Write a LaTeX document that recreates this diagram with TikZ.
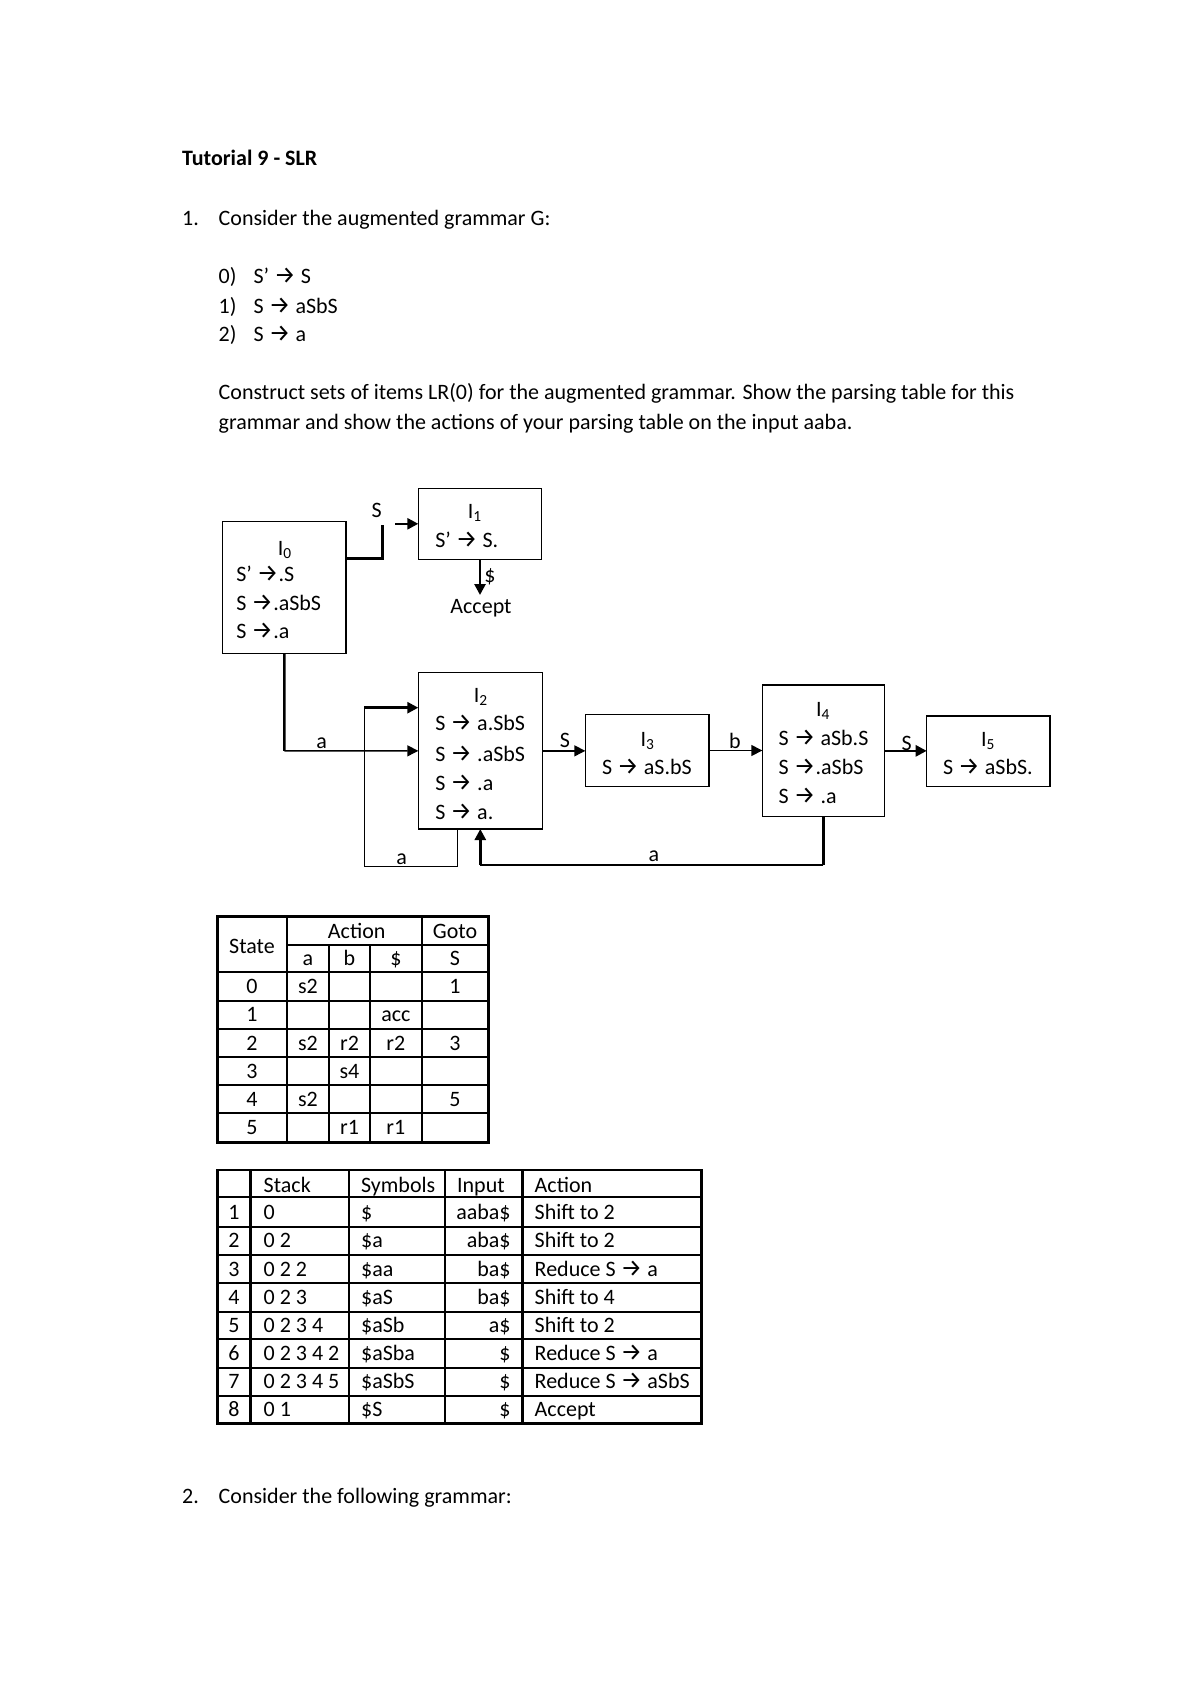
\documentclass[tikz,border=0pt]{standalone}
\usepackage{fontspec}
\setmainfont{Carlito}
\newfontfamily\arrowfont[Scale=1.1]{Fira Sans}
\usetikzlibrary{arrows.meta}
\newcommand\ra{{\arrowfont →}}
\newcommand\stbox[5]{\node[statebox,minimum width={(#4-#2)*0.5pt},minimum height={(#5-#3)*0.5pt}] (#1) at ({(#2+#4)/2},{(#3+#5)/2}) {};}
\tikzset{
  txt/.style={anchor=base west,inner sep=0pt},
  ctxt/.style={anchor=base,inner sep=0pt},
  rtxt/.style={anchor=base east,inner sep=0pt},
  statebox/.style={draw,line width=0.75pt,inner sep=0pt,outer sep=0pt},
  thinline/.style={line width=0.7pt},
  thickline/.style={line width=1.3pt},
  tip/.style={-{Triangle[length=5.5pt,width=5.5pt]}},
  tline/.style={line width=0.9pt},
  tthick/.style={line width=1.3pt},
}
\begin{document}
\begin{tikzpicture}[x=0.5pt,y=-0.5pt,font=\fontsize{11}{13}\selectfont]
\fill[white] (0,0) rectangle (1200,1696);
\useasboundingbox (0,0) rectangle (1200,1696);

% ---------- heading text ----------
\node[txt] (title) at (181.7,166) {\bfseries Tutorial 9 - SLR};
\node[txt] (n1) at (181.7,225.5) {1.};
\node[txt] (q1) at (218.3,225.5) {Consider the augmented grammar G:};
\node[txt] (g0n) at (218.3,284) {0)};
\node[txt] (g0) at (253.3,284) {S’ \ra{} S};
\node[txt] (g1n) at (218.3,313) {1)};
\node[txt] (g1) at (253.3,313) {S \ra{} aSbS};
\node[txt] (g2n) at (218.3,341.5) {2)};
\node[txt] (g2) at (253.3,341.5) {S \ra{} a};
\node[txt] (q1b) at (218.3,399) {Construct sets of items LR(0) for the augmented grammar. Show the parsing table for this};
\node[txt] (q1c) at (218.3,429) {grammar and show the actions of your parsing table on the input aaba.};
\node[txt] (n2) at (181.7,1503.5) {2.};
\node[txt] (q2) at (218.3,1503.5) {Consider the following grammar:};

% ---------- state boxes ----------
\stbox{I0}{222.7}{521.7}{346}{653.3}
\stbox{I1}{418.3}{488.3}{541.7}{559.3}
\stbox{I2}{418.3}{672.7}{542.3}{829}
\stbox{I3}{585.3}{714.3}{709}{786.7}
\stbox{I4}{762.3}{685}{884.3}{816.7}
\stbox{I5}{926.7}{716}{1050}{786.7}

% box contents
\node[ctxt] (l0) at (285,555) {I\textsubscript{0}};
\node[txt] (i0a) at (236,581) {S’ \ra.S};
\node[txt] (i0b) at (236,610) {S \ra.aSbS};
\node[txt] (i0c) at (236,638.7) {S \ra.a};
\node[ctxt] (l1) at (475,518) {I\textsubscript{1}};
\node[txt] (i1a) at (435,547) {S’ \ra{} S.};
\node[ctxt] (acc) at (481,613) {Accept};
\node[ctxt] (l2) at (481,702) {I\textsubscript{2}};
\node[txt] (i2a) at (435,730.3) {S \ra{} a.SbS};
\node[txt] (i2b) at (435,761.3) {S \ra{} .aSbS};
\node[txt] (i2c) at (435,790.3) {S \ra{} .a};
\node[txt] (i2d) at (435,819.7) {S \ra{} a.};
\node[ctxt] (l3) at (647.7,746) {I\textsubscript{3}};
\node[txt] (i3a) at (601.7,774.3) {S \ra{} aS.bS};
\node[ctxt] (l4) at (823.3,716) {I\textsubscript{4}};
\node[txt] (i4a) at (778.3,745.3) {S \ra{} aSb.S};
\node[txt] (i4b) at (778.3,774.3) {S \ra.aSbS};
\node[txt] (i4c) at (778.3,803) {S \ra{} .a};
\node[ctxt] (l5) at (988.3,746) {I\textsubscript{5}};
\node[txt] (i5a) at (942.7,774.3) {S \ra{} aSbS.};

% edge labels
\node[ctxt] (eS01) at (376.7,517) {S};
\node[ctxt] (eD1) at (490,582) {\$};
\node[ctxt] (ea02) at (321.7,748) {a};
\node[ctxt] (ea22) at (401.7,864.5) {a};
\node[ctxt] (ea42) at (654,861) {a};
\node[ctxt] (eS23) at (565,747) {S};
\node[ctxt] (eb34) at (735,748) {b};
\node[ctxt] (eS45) at (906.7,750) {S};

% ---------- connectors ----------
\coordinate (k1) at (382.7,558.3);
\coordinate (k2) at (382.7,525);
\coordinate (k3) at (395,523.8);
\draw[thickline] (k1 -| I0.east) -- (k1) -- (k2);
\draw[thickline,tip] (k3) -- (I1.west);
\draw[thickline,tip] (I1.south) -- (I1.south |- 0,595);

\coordinate (k4) at (284.35,750.85);
\draw[thickline] (I0.south) -- (k4);
\draw[thinline,tip] (k4) -- (I2.west);

\coordinate (k5) at (457.7,829);
\coordinate (k6) at (457.7,866.7);
\coordinate (k7) at (364.3,866.7);
\coordinate (k8) at (364.3,707.7);
\draw[thinline] (k5) -- (k6) -- (k7) -- (k8);
\draw[thickline,tip] (k8) -- (I2.west |- k8);

\coordinate (k9) at (823.3,865);
\draw[thickline] (I4.south) -- (k9);
\draw[thinline] (k9) -- (I2.south |- k9);
\draw[thickline,tip] (I2.south |- k9) -- (I2.south);

\draw[thinline,tip] (I2.east) -- (I2.east -| I3.west);
\draw[thinline,tip] (I3.east) -- (I3.east -| I4.west);
\draw[thickline,tip] (I4.east) -- (I4.east -| I5.west);

% ---------- parsing table ----------
\draw[tthick] (217.3,916.7) rectangle (488.3,1142.3);
\draw[tline] (286.7,945) -- (488.3,945);
\foreach \yy in {971.7,1000.7,1029,1057,1085,1113.3}
  \draw[tline] (217.3,\yy) -- (488.3,\yy);
\draw[tline] (286.7,916.7) -- (286.7,1142.3);
\draw[tline] (421.7,916.7) -- (421.7,1142.3);
\draw[thinline] (329,945) -- (329,1142.3);
\draw[tthick] (370,945) -- (370,1142.3);

\node[ctxt] (hState) at (252,953.7) {State};
\node[ctxt] (hAction) at (356.7,938) {Action};
\node[ctxt] (hGoto) at (455,938) {Goto};
\node[ctxt] (ha) at (307.9,965) {a};
\node[ctxt] (hb) at (349.5,965) {b};
\node[ctxt] (hd) at (395.85,965) {\$};
\node[ctxt] (hS) at (455,965) {S};
\foreach \st/\ca/\cb/\cd/\cg/\yy in {0/s2///1/993.2, 1///acc//1021.9, 2/s2/r2/r2/3/1050, 3//s4///1078, 4/s2///5/1106.2, 5//r1/r1//1134.7}{
  \node[ctxt] (p\st s) at (252,\yy) {\st};
  \node[ctxt] (p\st a) at (307.9,\yy) {\ca};
  \node[ctxt] (p\st b) at (349.5,\yy) {\cb};
  \node[ctxt] (p\st d) at (395.85,\yy) {\cd};
  \node[ctxt] (p\st g) at (455,\yy) {\cg};
}

% ---------- trace table ----------
\draw[tthick] (217.3,1170) rectangle (701.7,1423.3);
\foreach \yy in {1197.3,1226.7,1255,1283.3,1311.7,1339.3,1367.7,1395.7}
  \draw[tline] (217.3,\yy) -- (701.7,\yy);
\draw[tthick] (250.7,1170) -- (250.7,1423.3);
\draw[tline] (349.3,1170) -- (349.3,1423.3);
\draw[thinline] (445,1170) -- (445,1423.3);
\draw[tthick] (522.3,1170) -- (522.3,1423.3);

\node[txt] (hStack) at (263.3,1192) {Stack};
\node[txt] (hSym) at (360.7,1192) {Symbols};
\node[txt] (hIn) at (456.7,1192) {Input};
\node[txt] (hAct) at (534.3,1192) {Action};
\foreach \n/\st/\sy/\inp/\ac/\yy in {
  1/0/\$/aaba\$/Shift to 2/1219,
  2/0 2/\$a/aba\$/Shift to 2/1247.9,
  3/0 2 2/\$aa/ba\$/Reduce S \ra{} a/1276.2,
  4/0 2 3/\$aS/ba\$/Shift to 4/1304.5,
  5/0 2 3 4/\$aSb/a\$/Shift to 2/1332.5,
  6/0 2 3 4 2/\$aSba/\$/Reduce S \ra{} a/1360.5,
  7/0 2 3 4 5/\$aSbS/\$/Reduce S \ra{} aSbS/1388.7,
  8/0 1/\$S/\$/Accept/1416.5}{
  \node[ctxt] (t\n n) at (234,\yy) {\n};
  \node[txt] (t\n s) at (263.3,\yy) {\st};
  \node[txt] (t\n y) at (360.7,\yy) {\sy};
  \node[rtxt] (t\n i) at (511,\yy) {\inp};
  \node[txt] (t\n a) at (534.3,\yy) {\ac};
}
\end{tikzpicture}
\end{document}
